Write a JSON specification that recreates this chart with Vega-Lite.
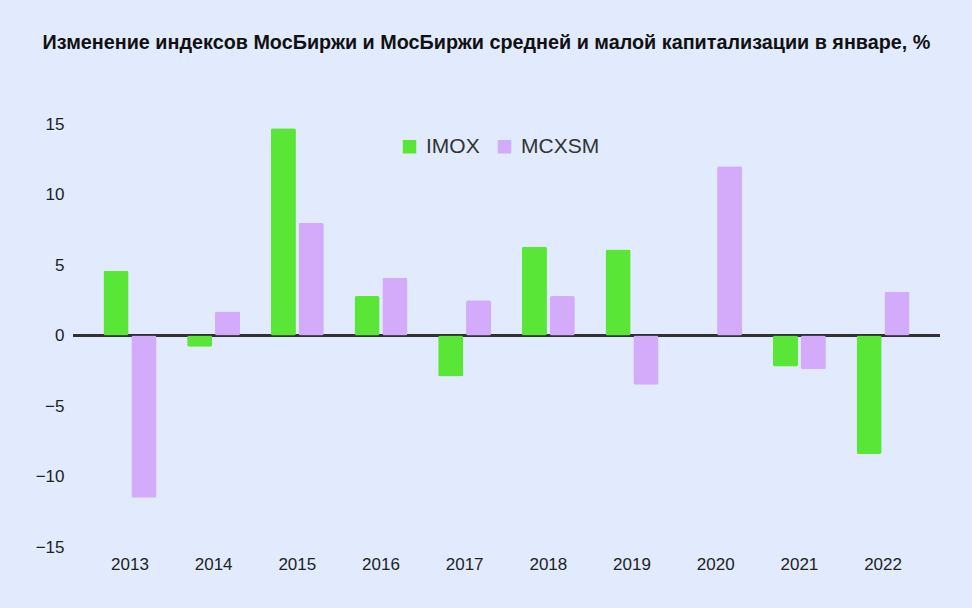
{
  "$schema": "https://vega.github.io/schema/vega-lite/v6.json",
  "width": 867,
  "height": 423,
  "autosize": {"type": "none"},
  "padding": {"left": 73, "top": 124, "right": 32, "bottom": 61},
  "background": "#E1EBFD",
  "config": {
    "view": {"stroke": null},
    "font": "Liberation Sans",
    "axis": {"labelFont": "Liberation Sans", "labelColor": "#222222"}
  },
  "title": {
    "text": "Изменение индексов МосБиржи и МосБиржи средней и малой капитализации в январе, %",
    "font": "Liberation Sans",
    "fontSize": 19.8,
    "fontWeight": "bold",
    "color": "#111111",
    "anchor": "middle",
    "frame": "group",
    "dx": -20,
    "offset": 62
  },
  "data": {
    "values": [
      {"year": "2013", "index": "IMOX", "value": 4.6},
      {"year": "2013", "index": "MCXSM", "value": -11.5},
      {"year": "2014", "index": "IMOX", "value": -0.8},
      {"year": "2014", "index": "MCXSM", "value": 1.7},
      {"year": "2015", "index": "IMOX", "value": 14.7},
      {"year": "2015", "index": "MCXSM", "value": 8.0},
      {"year": "2016", "index": "IMOX", "value": 2.8},
      {"year": "2016", "index": "MCXSM", "value": 4.1},
      {"year": "2017", "index": "IMOX", "value": -2.9},
      {"year": "2017", "index": "MCXSM", "value": 2.5},
      {"year": "2018", "index": "IMOX", "value": 6.3},
      {"year": "2018", "index": "MCXSM", "value": 2.8},
      {"year": "2019", "index": "IMOX", "value": 6.1},
      {"year": "2019", "index": "MCXSM", "value": -3.5},
      {"year": "2020", "index": "IMOX", "value": 0},
      {"year": "2020", "index": "MCXSM", "value": 12.0},
      {"year": "2021", "index": "IMOX", "value": -2.2},
      {"year": "2021", "index": "MCXSM", "value": -2.4},
      {"year": "2022", "index": "IMOX", "value": -8.4},
      {"year": "2022", "index": "MCXSM", "value": 3.1}
    ]
  },
  "layer": [
    {
      "mark": {"type": "rule", "color": "#333333", "strokeWidth": 1.3},
      "encoding": {"y": {"datum": 0, "type": "quantitative"}}
    },
    {
      "mark": {"type": "bar", "cornerRadius": 2},
      "encoding": {
        "x": {
          "field": "year",
          "type": "nominal",
          "scale": {"paddingInner": 0.367, "paddingOuter": 0.364},
          "axis": {
            "title": null,
            "labelAngle": 0,
            "labelFontSize": 17,
            "labelPadding": 9,
            "ticks": false,
            "domain": false,
            "grid": false
          }
        },
        "xOffset": {
          "field": "index",
          "type": "nominal",
          "scale": {"paddingInner": 0.1}
        },
        "y": {
          "field": "value",
          "type": "quantitative",
          "scale": {"domain": [-15, 15], "nice": false, "zero": false},
          "axis": {
            "title": null,
            "values": [-15, -10, -5, 0, 5, 10, 15],
            "labelFontSize": 17,
            "labelPadding": 9,
            "ticks": false,
            "domain": false,
            "gridColor": "#BCC4D2",
            "gridWidth": 1.2
          }
        },
        "color": {
          "field": "index",
          "type": "nominal",
          "scale": {"domain": ["IMOX", "MCXSM"], "range": ["#5AE636", "#D4ABFB"]},
          "legend": {
            "title": null,
            "orient": "none",
            "direction": "horizontal",
            "legendX": 326,
            "legendY": 12,
            "padding": 0,
            "symbolType": "square",
            "symbolSize": 182,
            "symbolStrokeWidth": 0,
            "labelFontSize": 21,
            "labelColor": "#333333",
            "labelFont": "Liberation Sans",
            "labelOffset": 6,
            "columnPadding": 14
          }
        }
      }
    }
  ]
}
